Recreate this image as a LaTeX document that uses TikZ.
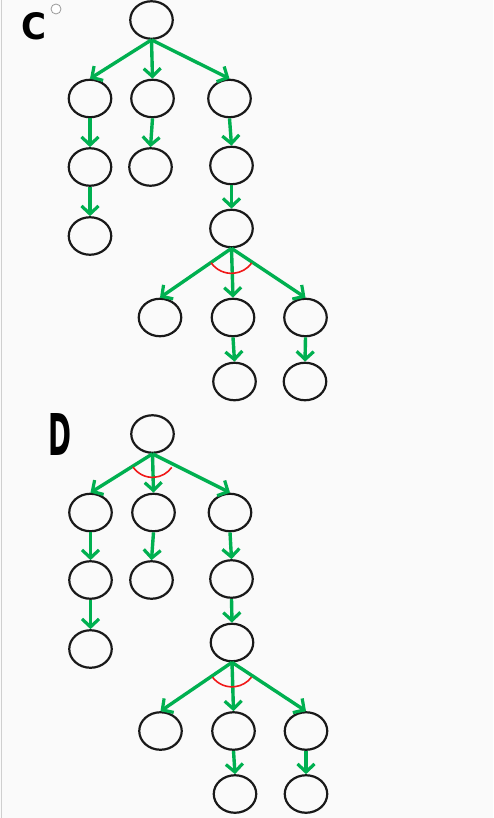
\documentclass[tikz,border=0pt]{standalone}
\usepackage{fontspec}
\usepackage{graphicx}
\newfontfamily\handfont{DejaVu Sans}
\usetikzlibrary{shapes.geometric,arrows.meta,calc}
\definecolor{bggray}{HTML}{FAFAFA}
\definecolor{edgegreen}{HTML}{00B050}
\definecolor{arcred}{HTML}{F01818}
\definecolor{bordergray}{HTML}{CFCFCF}
\tikzset{
  treenode/.style={ellipse, draw=black!90, line width=2.2pt, minimum width=42.5pt, minimum height=37.5pt, inner sep=0pt},
  treeedge/.style={draw=edgegreen, line width=3.4pt, -{Straight Barb[length=8pt,width=17pt,line width=3.2pt]}},
  redarc/.style={draw=arcred, line width=1.6pt},
  letter/.style={inner sep=0pt, text=black},
}
\begin{document}
\begin{tikzpicture}[x=1pt,y=-1pt]
\fill[bggray] (0,0) rectangle (493,818);
\useasboundingbox (0,0) rectangle (493,818);
\draw[bordergray, line width=1.2pt] (1.5,0) -- (1.5,818);
% labels
\node[letter] (labelC) at (34,26) {\resizebox{25pt}{27pt}{\handfont\bfseries C}};
\node[circle, draw=black!40, fill=white, line width=0.8pt, minimum size=10pt, inner sep=0pt] (radio) at (56,9) {};
\node[letter] (labelD) at (60,434.5) {\resizebox{23pt}{42pt}{\handfont\bfseries D}};
% tree C
\node[treenode] (c0) at (151.5,20) {};
\node[treenode] (c1) at (90,98.5) {};
\node[treenode] (c2) at (152.5,98.5) {};
\node[treenode] (c3) at (229.5,98.5) {};
\node[treenode] (c4) at (90,167) {};
\node[treenode] (c5) at (150.5,167) {};
\node[treenode] (c6) at (231.5,165.5) {};
\node[treenode] (c7) at (90,236) {};
\node[treenode] (c8) at (231.5,228.5) {};
\node[treenode] (c9) at (160,317.5) {};
\node[treenode] (c10) at (233,317.5) {};
\node[treenode] (c11) at (305.5,317.5) {};
\node[treenode] (c12) at (234.5,381.5) {};
\node[treenode] (c13) at (305,381.5) {};
\foreach \a/\b in {c0/c1,c0/c2,c0/c3,c1/c4,c2/c5,c3/c6,c4/c7,c6/c8,c8/c9,c8/c10,c8/c11,c10/c12,c11/c13}
  \draw[treeedge] (\a.south) -- (\b.north);
\draw[redarc] ($(c8.south)+(145:25)$) arc[start angle=145,end angle=36,radius=25];
% tree D
\node[treenode] (d0) at (152.5,434) {};
\node[treenode] (d1) at (90.5,512.5) {};
\node[treenode] (d2) at (153.5,512.5) {};
\node[treenode] (d3) at (230,512.5) {};
\node[treenode] (d4) at (90.5,580) {};
\node[treenode] (d5) at (151.5,580) {};
\node[treenode] (d6) at (231.5,579) {};
\node[treenode] (d7) at (90.5,649) {};
\node[treenode] (d8) at (232,642.5) {};
\node[treenode] (d9) at (160.5,731) {};
\node[treenode] (d10) at (233.5,731) {};
\node[treenode] (d11) at (306,731) {};
\node[treenode] (d12) at (235,794) {};
\node[treenode] (d13) at (306,794) {};
\foreach \a/\b in {d0/d1,d0/d2,d0/d3,d1/d4,d2/d5,d3/d6,d4/d7,d6/d8,d8/d9,d8/d10,d8/d11,d10/d12,d11/d13}
  \draw[treeedge] (\a.south) -- (\b.north);
\draw[redarc] ($(d0.south)+(146:23.5)$) arc[start angle=146,end angle=35,radius=23.5];
\draw[redarc] ($(d8.south)+(143:24.5)$) arc[start angle=143,end angle=37,radius=24.5];
\end{tikzpicture}
\end{document}
